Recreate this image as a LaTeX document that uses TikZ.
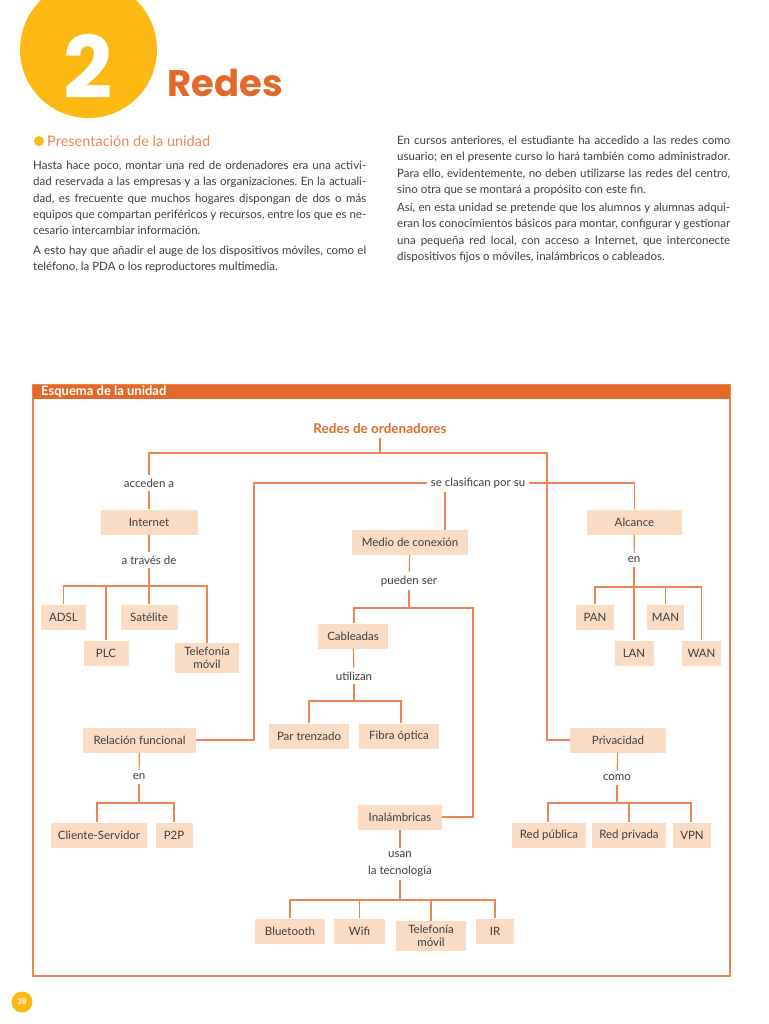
\documentclass[tikz,border=0pt]{standalone}
\usepackage{fontspec}
\setmainfont{Lato}
\newfontfamily\headfont{Poppins}
\usetikzlibrary{positioning}
\frenchspacing
\definecolor{sunyel}{HTML}{FDB913}
\definecolor{redor}{HTML}{E2692A}
\definecolor{lineor}{HTML}{EE8450}
\definecolor{boxfill}{HTML}{FADCC4}
\definecolor{bodygray}{HTML}{3C3C3C}
\tikzset{
  bx/.style={fill=boxfill,minimum height=25pt,inner xsep=3pt,inner ysep=4pt,align=center,font=\fontsize{11.5}{13}\selectfont,text=bodygray},
  lbl/.style={align=center,inner sep=4pt,font=\fontsize{11.5}{16.5}\selectfont,text=bodygray},
  conn/.style={draw=lineor,line width=1.2pt},
  para/.style={anchor=north west,inner sep=0pt,text width=333pt,align=justify,font=\fontsize{11.5}{16.3}\selectfont,text=bodygray}
}
\begin{document}
\begin{tikzpicture}[x=1pt,y=-1pt]
\useasboundingbox (0,0) rectangle (768,1024);
% head
\fill[sunyel] (88.5,49.5) circle (68.5);
\node[font=\headfont\bfseries\fontsize{86}{86}\selectfont,text=white] (chapno) at (88,66) {2};
\node[anchor=base west,inner sep=0pt,font=\headfont\bfseries\fontsize{37}{37}\selectfont,text=redor] (chaptitle) at (167,97) {Redes};
\fill[sunyel] (39,141) circle (5);
\node[anchor=west,inner sep=0pt,font=\fontsize{14.5}{16}\selectfont,text=redor!80] (presen) at (47,141) {Presentación de la unidad};
% text columns
\node[para] (lefta) at (33,161) {Hasta hace poco, montar una red de ordenadores era una activi-\linebreak dad reservada a las empresas y a las organizaciones. En la actuali-\linebreak dad, es frecuente que muchos hogares dispongan de dos o más\linebreak equipos que compartan periféricos y recursos, entre los que es ne-\linebreak cesario intercambiar información.};
\node[para] (leftb) at (33,246) {A esto hay que añadir el auge de los dispositivos móviles, como el\linebreak teléfono, la PDA o los reproductores multimedia.};
\node[para] (righta) at (397,136) {En cursos anteriores, el estudiante ha accedido a las redes como\linebreak usuario; en el presente curso lo hará también como administrador.\linebreak Para ello, evidentemente, no deben utilizarse las redes del centro,\linebreak sino otra que se montará a propósito con este fin.};
\node[para] (rightb) at (397,203) {Así, en esta unidad se pretende que los alumnos y alumnas adqui-\linebreak eran los conocimientos básicos para montar, configurar y gestionar\linebreak una pequeña red local, con acceso a Internet, que interconecte\linebreak dispositivos fijos o móviles, inalámbricos o cableados.};
% scheme frame
\draw[lineor,line width=1.1pt] (33,385) rectangle (730,976);
\fill[redor] (33,385) rectangle (730,399);
\node[anchor=west,inner sep=0pt,font=\bfseries\fontsize{13}{13}\selectfont,text=white] (esquema) at (41,392) {Esquema de la unidad};
\node[font=\bfseries\fontsize{13.5}{15}\selectfont,text=redor] (redes) at (380,429) {Redes de ordenadores};
% labels
\node[lbl] (acc) at (149,483) {acceden a};
\node[lbl] (clas) at (478,483) {se clasifican por su};
\node[lbl] (trav) at (149,560) {a través de};
\node[lbl] (pued) at (409,581) {pueden ser};
\node[lbl] (en1) at (634,560) {en};
\node[lbl] (util) at (354,676) {utilizan};
\node[lbl] (en2) at (139,777) {en};
\node[lbl] (como) at (617,778) {como};
\node[lbl] (usan) at (400,864) {usan\\la tecnología};
% boxes
\node[bx,minimum width=97pt] (inet) at (149,522) {Internet};
\node[bx,minimum width=45pt] (adsl) at (63.5,617) {ADSL};
\node[bx,minimum width=45pt] (plc) at (106,653) {PLC};
\node[bx,minimum width=57pt] (sat) at (149,617) {Satélite};
\node[bx,minimum width=64pt] (tel1) at (207,658) {Telefonía\\móvil};
\node[bx,minimum width=113pt] (relf) at (139.5,740) {Relación funcional};
\node[bx,minimum width=96pt] (cs) at (99,835) {Cliente-Servidor};
\node[bx,minimum width=37pt] (p2p) at (174,835) {P2P};
\node[bx,minimum width=116pt] (medio) at (410,542.5) {Medio de conexión};
\node[bx,minimum width=70pt] (cab) at (353,636) {Cableadas};
\node[bx,minimum width=80pt] (par) at (309,736) {Par trenzado};
\node[bx,minimum width=80pt] (fib) at (399,736) {Fibra óptica};
\node[bx,minimum width=84pt] (inal) at (400,817) {Inalámbricas};
\node[bx,minimum width=70pt] (blue) at (290,931) {Bluetooth};
\node[bx,minimum width=51pt] (wifi) at (359.5,931) {Wifi};
\node[bx,minimum width=70pt] (tel2) at (431,936) {Telefonía\\móvil};
\node[bx,minimum width=38pt] (ir) at (495,931) {IR};
\node[bx,minimum width=95pt] (alc) at (634.5,522) {Alcance};
\node[bx,minimum width=38pt] (pan) at (595,617) {PAN};
\node[bx,minimum width=37pt] (man) at (665.5,617) {MAN};
\node[bx,minimum width=39pt] (lan) at (634,653) {LAN};
\node[bx,minimum width=39pt] (wan) at (701.5,653) {WAN};
\node[bx,minimum width=96pt] (priv) at (618,740) {Privacidad};
\node[bx,minimum width=74pt] (rpub) at (549,835) {Red pública};
\node[bx,minimum width=74pt] (rpriv) at (629,835) {Red privada};
\node[bx,minimum width=38pt] (vpn) at (692,835) {VPN};
% bends and buses
\coordinate (tbus) at (380,453);
\coordinate (rbend) at (547,740);
\coordinate (lbend) at (254,740);
\coordinate (cdrop) at (445,0);
\coordinate (ibus) at (149,586);
\coordinate (rbus) at (139,803);
\coordinate (pbus) at (409,608);
\coordinate (mbend) at (473,817);
\coordinate (ubus) at (354,701);
\coordinate (wbus) at (400,900);
\coordinate (abus) at (634,587);
\coordinate (cbus) at (617,803);
% connectors
\draw[conn] (redes) -- (tbus);
\draw[conn] (acc) |- (tbus) -| (rbend) -- (priv.west);
\draw[conn] (clas.west) -| (lbend) -- (relf.east);
\draw[conn] (clas.east) -| (alc.north);
\draw[conn] (clas.south -| cdrop) -- (cdrop |- medio.north);
\draw[conn] (acc) -- (inet);
\draw[conn] (inet) -- (trav);
\draw[conn] (trav) -- (sat.north);
\draw[conn] (adsl.north) |- (ibus) -| (tel1.north);
\draw[conn] (plc.north) -- (plc.north |- ibus);
\draw[conn] (relf) -- (en2);
\draw[conn] (en2) -- (rbus);
\draw[conn] ([xshift=-2pt]cs.north) |- (rbus) -| (p2p.north);
\draw[conn] (medio) -- (pued);
\draw[conn] (pued) -- (pbus);
\draw[conn] ([xshift=1pt]cab.north) |- (pbus) -| (mbend) -- (inal.east);
\draw[conn] (cab) -- (util);
\draw[conn] (util) -- (ubus);
\draw[conn] (par.north) |- (ubus) -| ([xshift=2pt]fib.north);
\draw[conn] (inal) -- (usan);
\draw[conn] (usan) -- (wbus);
\draw[conn] (blue.north) |- (wbus) -| (ir.north);
\draw[conn] (wifi.north) -- (wifi.north |- wbus);
\draw[conn] (tel2.north) -- (tel2.north |- wbus);
\draw[conn] (alc) -- (en1);
\draw[conn] (en1) -- (lan.north);
\draw[conn] (pan.north) |- (abus) -| (wan.north);
\draw[conn] (man.north) -- (man.north |- abus);
\draw[conn] (priv) -- (como);
\draw[conn] (como) -- (cbus);
\draw[conn] ([xshift=-1pt]rpub.north) |- (cbus) -| ([xshift=-1pt]vpn.north);
\draw[conn] (rpriv.north) -- (rpriv.north |- cbus);
% page number
\fill[sunyel] (22,1002) circle (10.5);
\node[font=\bfseries\fontsize{8}{8}\selectfont,text=white] (pageno) at (22,1002) {38};
\end{tikzpicture}
\end{document}
